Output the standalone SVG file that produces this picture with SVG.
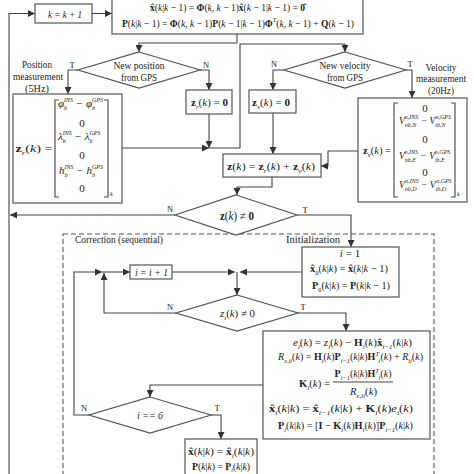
<svg xmlns="http://www.w3.org/2000/svg" width="474" height="474" viewBox="0 0 474 474">
<style>
.bg{fill:#fff}
.box{fill:#fff;stroke:#555;stroke-width:1.2}
.ln{fill:none;stroke:#444;stroke-width:1.1}
.dash{fill:none;stroke:#555;stroke-width:1.1;stroke-dasharray:5 3}
.t{font-family:"Liberation Serif","Times New Roman",serif;fill:#222}
.eq{font-size:11px}
.b{font-weight:bold;font-style:normal}
.i{font-style:italic}
.s{font-size:7px}
.ss{font-size:6px}
.lb{font-size:9.5px}
.tn{font-size:8.5px}
</style>
<defs>
<marker id="ar" viewBox="0 0 8 8" refX="8" refY="4" markerWidth="7" markerHeight="7" markerUnits="userSpaceOnUse" orient="auto">
<path d="M0,0 L8,4 L0,8 z" fill="#333"/>
</marker>
</defs>
<rect class="bg" width="474" height="474"/>

<g id="connectors">
<path class="ln" d="M9,480 V13.5 H35" marker-end="url(#ar)"/>
<path class="ln" d="M92,13.5 H112" marker-end="url(#ar)"/>
<path class="ln" d="M237,34 V43 H139 V52" marker-end="url(#ar)"/>
<path class="ln" d="M78,70 H68 V94" marker-end="url(#ar)"/>
<path class="ln" d="M200,70 H209 V90" marker-end="url(#ar)"/>
<path class="ln" d="M209,114 V148" marker-end="url(#ar)"/>
<path class="ln" d="M122,148 H209" marker-end="url(#ar)"/>
<path class="ln" d="M209,148 H240 V44 H345 V52" marker-end="url(#ar)"/>
<path class="ln" d="M284,70 H273 V90" marker-end="url(#ar)"/>
<path class="ln" d="M406,70 H412 V98" marker-end="url(#ar)"/>
<path class="ln" d="M273,113 V154" marker-end="url(#ar)"/>
<path class="ln" d="M358,151 H328 V166 H321" marker-end="url(#ar)"/>
<path class="ln" d="M272,177 V187 H237 V195" marker-end="url(#ar)"/>
<path class="ln" d="M175,215 H10" marker-end="url(#ar)"/>
<path class="ln" d="M297,215 H351 V247" marker-end="url(#ar)"/>
<path class="ln" d="M302,272 H240" marker-end="url(#ar)"/>
<path class="ln" d="M172,272 H235" marker-end="url(#ar)"/>
<path class="ln" d="M237,272 V295" marker-end="url(#ar)"/>
<path class="ln" d="M176,313 H104 V273" marker-end="url(#ar)"/>
<path class="ln" d="M89,415 H74 V272 H102" marker-end="url(#ar)"/>
<path class="ln" d="M102,272 H130" marker-end="url(#ar)"/>
<path class="ln" d="M298,313 H346 V331" marker-end="url(#ar)"/>
<path class="ln" d="M263,385 H150 V397" marker-end="url(#ar)"/>
<path class="ln" d="M211,415 H221 V439" marker-end="url(#ar)"/>
<rect class="dash" x="63" y="234" width="371" height="250"/>
<text class="t lb" x="75" y="243" textLength="88" lengthAdjust="spacingAndGlyphs">Correction (sequential)</text>
<text class="t lb" x="286" y="243" textLength="54" lengthAdjust="spacingAndGlyphs">Initialization</text>
<text class="t tn" x="72" y="68" text-anchor="middle">T</text>
<text class="t tn" x="206" y="68" text-anchor="middle">N</text>
<text class="t tn" x="274" y="67" text-anchor="middle">N</text>
<text class="t tn" x="410" y="67" text-anchor="middle">T</text>
<text class="t tn" x="170" y="212" text-anchor="middle">N</text>
<text class="t tn" x="305" y="213" text-anchor="middle">T</text>
<text class="t tn" x="170" y="310" text-anchor="middle">N</text>
<text class="t tn" x="303" y="310" text-anchor="middle">T</text>
<text class="t tn" x="84" y="411" text-anchor="middle">N</text>
<text class="t tn" x="217" y="411" text-anchor="middle">T</text>
</g>

<g id="k_inc">
<rect class="box" x="35" y="4" width="57" height="19"/>
<text class="t eq i" x="65" y="17.5" text-anchor="middle" textLength="34" lengthAdjust="spacingAndGlyphs">k = k + 1</text>
</g>

<g id="predict">
<rect class="box" x="112" y="-5" width="251" height="39"/>
<text class="t eq" x="227.5" y="11" text-anchor="middle" textLength="155" lengthAdjust="spacingAndGlyphs"><tspan class="b">x̂</tspan>(<tspan class="i">k</tspan>|<tspan class="i">k</tspan> − 1) = <tspan class="b">Φ</tspan>(<tspan class="i">k</tspan>, <tspan class="i">k</tspan> − 1)<tspan class="b">x̂</tspan>(<tspan class="i">k</tspan> − 1|<tspan class="i">k</tspan> − 1) = <tspan class="b">0̂</tspan></text>
<text class="t eq" x="238" y="27" text-anchor="middle" textLength="232" lengthAdjust="spacingAndGlyphs"><tspan class="b">P</tspan>(<tspan class="i">k</tspan>|<tspan class="i">k</tspan> − 1) = <tspan class="b">Φ</tspan>(<tspan class="i">k</tspan>, <tspan class="i">k</tspan> − 1)<tspan class="b">P</tspan>(<tspan class="i">k</tspan> − 1|<tspan class="i">k</tspan> − 1)<tspan class="b">Φ</tspan><tspan class="s i" dy="-5">T</tspan><tspan dy="5">(</tspan><tspan class="i">k</tspan>, <tspan class="i">k</tspan> − 1) + <tspan class="b">Q</tspan>(<tspan class="i">k</tspan> − 1)</text>
</g>

<g id="pos_dec">
<polygon class="box" points="139,52 200,70 139,88 78,70"/>
<text class="t lb" x="139" y="69" text-anchor="middle" textLength="51" lengthAdjust="spacingAndGlyphs">New position</text>
<text class="t lb" x="139" y="81" text-anchor="middle" textLength="36" lengthAdjust="spacingAndGlyphs">from GPS</text>
</g>

<g id="pos_label">
<text class="t lb" x="37" y="68" text-anchor="middle" textLength="30" lengthAdjust="spacingAndGlyphs">Position</text>
<text class="t lb" x="38" y="80" text-anchor="middle" textLength="50" lengthAdjust="spacingAndGlyphs">measurement</text>
<text class="t lb" x="37" y="92" text-anchor="middle" textLength="24" lengthAdjust="spacingAndGlyphs">(5Hz)</text>
</g>

<g id="pos_meas">
<rect class="box" x="13" y="94" width="109" height="109"/>
<text class="t eq" x="34" y="152" text-anchor="middle" textLength="37" lengthAdjust="spacingAndGlyphs"><tspan class="b">z</tspan><tspan class="s i" dy="3">r</tspan><tspan dy="-3">(</tspan><tspan class="i">k</tspan>) =</text>
<path class="ln" d="M59,100 H55 V197 H59 M104,100 H108 V197 H104" stroke-width="0.9"/>
<text class="t ss i" x="110" y="196">k</text>
<text class="t eq i" x="58" y="107">φ<tspan class="ss" dy="3">b</tspan><tspan class="ss" dx="-3" dy="-8">INS</tspan><tspan dy="5"> − φ</tspan><tspan class="ss" dy="3">b</tspan><tspan class="ss" dx="-3" dy="-8">GPS</tspan></text>
<text class="t eq" x="82" y="127" text-anchor="middle">0</text>
<text class="t eq i" x="58" y="140">λ<tspan class="ss" dy="3">b</tspan><tspan class="ss" dx="-3" dy="-8">INS</tspan><tspan dy="5"> − λ</tspan><tspan class="ss" dy="3">b</tspan><tspan class="ss" dx="-3" dy="-8">GPS</tspan></text>
<text class="t eq" x="82" y="159" text-anchor="middle">0</text>
<text class="t eq i" x="59" y="174">h<tspan class="ss" dy="3">b</tspan><tspan class="ss" dx="-3" dy="-8">INS</tspan><tspan dy="5"> − h</tspan><tspan class="ss" dy="3">b</tspan><tspan class="ss" dx="-3" dy="-8">GPS</tspan></text>
<text class="t eq" x="82" y="192" text-anchor="middle">0</text>
</g>

<g id="pos_zero">
<rect class="box" x="186" y="90" width="46" height="24"/>
<text class="t eq" x="209.5" y="106" text-anchor="middle" textLength="37" lengthAdjust="spacingAndGlyphs"><tspan class="b">z</tspan><tspan class="s i" dy="3">r</tspan><tspan dy="-3">(</tspan><tspan class="i">k</tspan>) = <tspan class="b">0</tspan></text>
</g>

<g id="vel_dec">
<polygon class="box" points="345,52 406,70 345,88 284,70"/>
<text class="t lb" x="345" y="69" text-anchor="middle" textLength="51" lengthAdjust="spacingAndGlyphs">New velocity</text>
<text class="t lb" x="345" y="81" text-anchor="middle" textLength="36" lengthAdjust="spacingAndGlyphs">from GPS</text>
</g>

<g id="vel_label">
<text class="t lb" x="441" y="71" text-anchor="middle" textLength="31" lengthAdjust="spacingAndGlyphs">Velocity</text>
<text class="t lb" x="441" y="82" text-anchor="middle" textLength="50" lengthAdjust="spacingAndGlyphs">measurement</text>
<text class="t lb" x="441" y="94" text-anchor="middle" textLength="26" lengthAdjust="spacingAndGlyphs">(20Hz)</text>
</g>

<g id="vel_zero">
<rect class="box" x="249" y="90" width="47" height="23"/>
<text class="t eq" x="271" y="106" text-anchor="middle" textLength="38" lengthAdjust="spacingAndGlyphs"><tspan class="b">z</tspan><tspan class="s i" dy="3">v</tspan><tspan dy="-3">(</tspan><tspan class="i">k</tspan>) = <tspan class="b">0</tspan></text>
</g>

<g id="vel_meas">
<rect class="box" x="358" y="98" width="109" height="104"/>
<text class="t eq" x="377" y="154" text-anchor="middle" textLength="28" lengthAdjust="spacingAndGlyphs"><tspan class="b">z</tspan><tspan class="s i" dy="3">v</tspan><tspan dy="-3">(</tspan><tspan class="i">k</tspan>) =</text>
<path class="ln" d="M398,103 H394 V197 H398 M451,103 H455 V197 H451" stroke-width="0.9"/>
<text class="t ss i" x="457" y="196">k</text>
<text class="t eq" x="425" y="112" text-anchor="middle">0</text>
<text class="t i" font-size="9.5" x="399" y="124">V<tspan class="ss" dy="3">nb,N</tspan><tspan class="ss" dx="-11.5" dy="-8">n,INS</tspan><tspan dy="5"> − V</tspan><tspan class="ss" dy="3">ib,N</tspan><tspan class="ss" dx="-10" dy="-8">n,GPS</tspan></text>
<text class="t eq" x="425" y="143" text-anchor="middle">0</text>
<text class="t i" font-size="9.5" x="399" y="159">V<tspan class="ss" dy="3">nb,E</tspan><tspan class="ss" dx="-11.5" dy="-8">n,INS</tspan><tspan dy="5"> − V</tspan><tspan class="ss" dy="3">ib,E</tspan><tspan class="ss" dx="-10" dy="-8">n,GPS</tspan></text>
<text class="t eq" x="425" y="176" text-anchor="middle">0</text>
<text class="t i" font-size="9.5" x="399" y="188">V<tspan class="ss" dy="3">nb,D</tspan><tspan class="ss" dx="-11.5" dy="-8">n,INS</tspan><tspan dy="5"> − V</tspan><tspan class="ss" dy="3">ib,D</tspan><tspan class="ss" dx="-10" dy="-8">n,GPS</tspan></text>
</g>

<g id="z_sum">
<rect class="box" x="223" y="154" width="98" height="23"/>
<text class="t eq" x="271" y="170" text-anchor="middle" textLength="88" lengthAdjust="spacingAndGlyphs"><tspan class="b">z</tspan>(<tspan class="i">k</tspan>) = <tspan class="b">z</tspan><tspan class="s i" dy="3">r</tspan><tspan dy="-3">(</tspan><tspan class="i">k</tspan>) + <tspan class="b">z</tspan><tspan class="s i" dy="3">v</tspan><tspan dy="-3">(</tspan><tspan class="i">k</tspan>)</text>
</g>

<g id="z_dec">
<polygon class="box" points="236,195 297,215 236,235 175,215"/>
<text class="t" font-size="12" x="237" y="219.5" text-anchor="middle" textLength="34" lengthAdjust="spacingAndGlyphs"><tspan class="b">z</tspan>(<tspan class="i">k</tspan>) ≠ <tspan class="b">0</tspan></text>
</g>

<g id="init">
<rect class="box" x="302" y="247" width="97" height="50"/>
<text class="t eq" x="350" y="257" text-anchor="middle"><tspan class="i">i</tspan> = 1</text>
<text class="t eq" x="349" y="272" text-anchor="middle" textLength="78" lengthAdjust="spacingAndGlyphs"><tspan class="b">x̂</tspan><tspan class="s" dy="3">0</tspan><tspan dy="-3">(</tspan><tspan class="i">k</tspan>|<tspan class="i">k</tspan>) = <tspan class="b">x̂</tspan>(<tspan class="i">k</tspan>|<tspan class="i">k</tspan> − 1)</text>
<text class="t eq" x="351" y="289" text-anchor="middle" textLength="78" lengthAdjust="spacingAndGlyphs"><tspan class="b">P</tspan><tspan class="s" dy="3">0</tspan><tspan dy="-3">(</tspan><tspan class="i">k</tspan>|<tspan class="i">k</tspan>) = <tspan class="b">P</tspan>(<tspan class="i">k</tspan>|<tspan class="i">k</tspan> − 1)</text>
</g>

<g id="i_inc">
<rect class="box" x="130" y="265" width="42" height="14"/>
<text class="t eq i" x="151.5" y="276" text-anchor="middle" textLength="33" lengthAdjust="spacingAndGlyphs">i = i + 1</text>
</g>

<g id="zi_dec">
<polygon class="box" points="237,295 298,313 237,331 176,313"/>
<text class="t eq" x="237.5" y="317" text-anchor="middle" textLength="35" lengthAdjust="spacingAndGlyphs"><tspan class="i">z</tspan><tspan class="s i" dy="3">i</tspan><tspan dy="-3">(</tspan><tspan class="i">k</tspan>) ≠ 0</text>
</g>

<g id="update">
<rect class="box" x="263" y="331" width="167" height="108"/>
<text class="t eq" x="352.5" y="346" text-anchor="middle" textLength="119" lengthAdjust="spacingAndGlyphs"><tspan class="i">e</tspan><tspan class="s i" dy="3">i</tspan><tspan dy="-3">(</tspan><tspan class="i">k</tspan>) = <tspan class="i">z</tspan><tspan class="s i" dy="3">i</tspan><tspan dy="-3">(</tspan><tspan class="i">k</tspan>) − <tspan class="b">H</tspan><tspan class="s i" dy="3">i</tspan><tspan dy="-3">(</tspan><tspan class="i">k</tspan>)<tspan class="b">x̂</tspan><tspan class="s i" dy="3">i−1</tspan><tspan dy="-3">(</tspan><tspan class="i">k</tspan>|<tspan class="i">k</tspan>)</text>
<text class="t eq" x="350.5" y="360" text-anchor="middle" textLength="145" lengthAdjust="spacingAndGlyphs"><tspan class="i">R</tspan><tspan class="s i" dy="3">e,ii</tspan><tspan dy="-3">(</tspan><tspan class="i">k</tspan>) = <tspan class="b">H</tspan><tspan class="s i" dy="3">i</tspan><tspan dy="-3">(</tspan><tspan class="i">k</tspan>)<tspan class="b">P</tspan><tspan class="s i" dy="3">i−1</tspan><tspan dy="-3">(</tspan><tspan class="i">k</tspan>|<tspan class="i">k</tspan>)<tspan class="b">H</tspan><tspan class="s i" dy="-4">T</tspan><tspan class="s i" dy="7">i</tspan><tspan dy="-3">(</tspan><tspan class="i">k</tspan>) + <tspan class="i">R</tspan><tspan class="s i" dy="3">ii</tspan><tspan dy="-3">(</tspan><tspan class="i">k</tspan>)</text>
<text class="t eq" x="314.5" y="387" text-anchor="middle" textLength="31" lengthAdjust="spacingAndGlyphs"><tspan class="b">K</tspan><tspan class="s i" dy="3">i</tspan><tspan dy="-3">(</tspan><tspan class="i">k</tspan>) =</text>
<text class="t eq" x="363" y="377" text-anchor="middle" textLength="57" lengthAdjust="spacingAndGlyphs"><tspan class="b">P</tspan><tspan class="s i" dy="3">i−1</tspan><tspan dy="-3">(</tspan><tspan class="i">k</tspan>|<tspan class="i">k</tspan>)<tspan class="b">H</tspan><tspan class="s i" dy="-4">T</tspan><tspan class="s i" dy="7">i</tspan><tspan dy="-3">(</tspan><tspan class="i">k</tspan>)</text>
<path class="ln" d="M333,382 H393" stroke-width="0.8"/>
<text class="t eq" x="363.5" y="395" text-anchor="middle" textLength="27" lengthAdjust="spacingAndGlyphs"><tspan class="i">R</tspan><tspan class="s i" dy="3">e,ii</tspan><tspan dy="-3">(</tspan><tspan class="i">k</tspan>)</text>
<text class="t eq" x="341" y="412" text-anchor="middle" textLength="144" lengthAdjust="spacingAndGlyphs"><tspan class="b">x̂</tspan><tspan class="s i" dy="3">i</tspan><tspan dy="-3">(</tspan><tspan class="i">k</tspan>|<tspan class="i">k</tspan>) = <tspan class="b">x̂</tspan><tspan class="s i" dy="3">i−1</tspan><tspan dy="-3">(</tspan><tspan class="i">k</tspan>|<tspan class="i">k</tspan>) + <tspan class="b">K</tspan><tspan class="s i" dy="3">i</tspan><tspan dy="-3">(</tspan><tspan class="i">k</tspan>)<tspan class="i">e</tspan><tspan class="s i" dy="3">i</tspan><tspan dy="-3">(</tspan><tspan class="i">k</tspan>)</text>
<text class="t eq" x="345.5" y="429" text-anchor="middle" textLength="135" lengthAdjust="spacingAndGlyphs"><tspan class="b">P</tspan><tspan class="s i" dy="3">i</tspan><tspan dy="-3">(</tspan><tspan class="i">k</tspan>|<tspan class="i">k</tspan>) = [<tspan class="b">I</tspan> − <tspan class="b">K</tspan><tspan class="s i" dy="3">i</tspan><tspan dy="-3">(</tspan><tspan class="i">k</tspan>)<tspan class="b">H</tspan><tspan class="s i" dy="3">i</tspan><tspan dy="-3">(</tspan><tspan class="i">k</tspan>)]<tspan class="b">P</tspan><tspan class="s i" dy="3">i−1</tspan><tspan dy="-3">(</tspan><tspan class="i">k</tspan>|<tspan class="i">k</tspan>)</text>
</g>

<g id="i_dec">
<polygon class="box" points="150,397 211,415 150,433 89,415"/>
<text class="t eq i" x="150" y="419" text-anchor="middle" textLength="26" lengthAdjust="spacingAndGlyphs">i == 6</text>
</g>

<g id="final">
<rect class="box" x="185" y="439" width="72" height="45"/>
<text class="t eq" x="221" y="455" text-anchor="middle" textLength="66" lengthAdjust="spacingAndGlyphs"><tspan class="b">x̂</tspan>(<tspan class="i">k</tspan>|<tspan class="i">k</tspan>) = <tspan class="b">x̂</tspan><tspan class="s i" dy="3">i</tspan><tspan dy="-3">(</tspan><tspan class="i">k</tspan>|<tspan class="i">k</tspan>)</text>
<text class="t eq" x="221" y="470" text-anchor="middle" textLength="58" lengthAdjust="spacingAndGlyphs"><tspan class="b">P</tspan>(<tspan class="i">k</tspan>|<tspan class="i">k</tspan>) = <tspan class="b">P</tspan><tspan class="s i" dy="2">i</tspan><tspan dy="-2">(</tspan><tspan class="i">k</tspan>|<tspan class="i">k</tspan>)</text>
</g>
</svg>
